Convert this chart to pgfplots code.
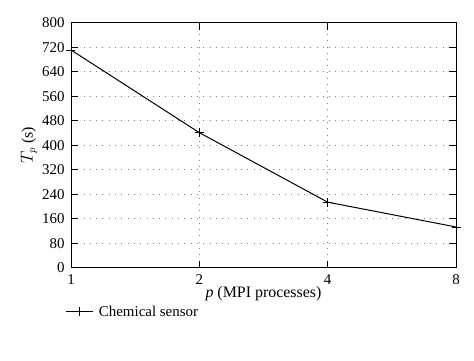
\documentclass[border=0pt]{standalone}
\usepackage{pgfplots}
\pgfplotsset{compat=1.18}
\usepackage{fontspec}
\setmainfont{Liberation Serif}
\begin{document}
\begin{tikzpicture}
\path[use as bounding box] (-71bp,-93.3bp) rectangle (403bp,267.7bp);
\begin{axis}[
  scale only axis,
  width=385bp, height=245bp,
  xmode=log, log basis x=2,
  xmin=1, xmax=8, ymin=0, ymax=800,
  xtick={1,2,4,8}, xticklabels={1,2,4,8},
  ytick={0,80,...,800},
  tick align=inside,
  major tick length=7bp,
  grid=major,
  major grid style={gray, line width=0.8pt, dash pattern=on 0.8pt off 5.5bp},
  axis line style={line width=0.8pt},
  tick style={black, line width=0.8pt},
  tick label style={font=\fontsize{15}{17}\selectfont},
  xticklabel style={yshift=-3bp},
  yticklabel style={xshift=-3bp},
  /pgf/number format/assume math mode=true,
  xlabel={\textit{p} (MPI processes)},
  ylabel={$T_p$ (s)},
  label style={font=\fontsize{16}{18}\selectfont},
  xlabel style={yshift=5bp},
  ylabel style={yshift=-2bp},
  legend style={at={(rel axis cs:0,0)}, anchor=north west, xshift=-9bp, yshift=-34bp, draw=none, fill=none, font=\fontsize{15}{17}\selectfont, nodes={inner xsep=6bp}},
  legend image code/.code={\draw[mark repeat=2,mark phase=2,#1] plot coordinates {(0cm,0cm) (0.475cm,0cm) (0.95cm,0cm)};},
  legend image post style={line width=0.8pt},
  legend cell align=left,
]
\addplot[black, line width=1pt, mark=+, mark size=4.5bp, mark options={line width=0.7pt}] coordinates {
  (1,711) (2,441) (4,214) (8,133)
};
\addlegendentry{Chemical sensor}
\end{axis}
\end{tikzpicture}
\end{document}
